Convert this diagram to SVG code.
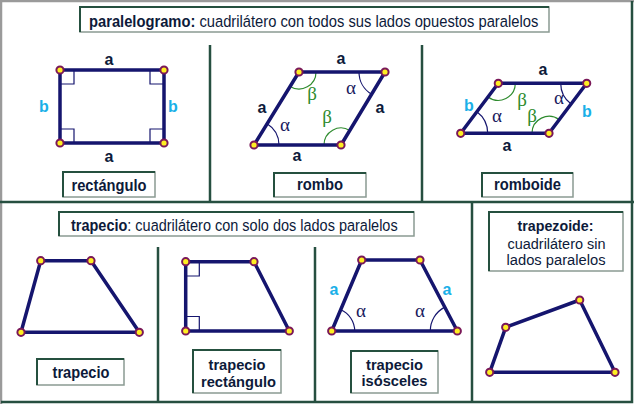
<svg xmlns="http://www.w3.org/2000/svg" width="634" height="404" viewBox="0 0 634 404">
<style>
.div{stroke:#264f40;stroke-width:2.5;fill:none}
.box{fill:#fff;stroke:#8a9a92;stroke-width:1.5}
.boxd{fill:none;stroke:#25503f;stroke-width:2}
.shape{fill:none;stroke:#15156e;stroke-width:3.5;stroke-linejoin:round}
.thin{fill:none;stroke:#15156e;stroke-width:1.2}
.garc{fill:none;stroke:#2e8b2e;stroke-width:1.2}
.t{font-family:"Liberation Sans",Arial,sans-serif;fill:#0d1a3a;font-size:17px}
.s{font-size:15.5px}
.b{font-weight:bold}
.m{text-anchor:middle}
.lab{font-family:"Liberation Sans",Arial,sans-serif;font-weight:bold;font-size:16px;text-anchor:middle}
.na{fill:#0d1a3a}
.cy{fill:#1ab0e8}
.gr{font-family:"Liberation Serif","DejaVu Serif",serif;font-size:19px;text-anchor:middle}
.al{fill:#1a1a5e}
.be{fill:#2e8b2e}
</style>
<defs>
<circle id="dot" r="3.6" fill="#ffee22" stroke="#7a1858" stroke-width="2"/>
</defs>
<rect x="0" y="0" width="634" height="404" fill="#fff"/>
<g id="frame">
<path d="M1 404 V1 H634" fill="none" stroke="#9a9a9a" stroke-width="2.5"/>
<path d="M632 1 V402 H1" fill="none" stroke="#264f40" stroke-width="2.5"/>
<path class="div" d="M0 202 H634"/>
<path class="div" d="M210 45 V201 M422 45 V201"/>
<path class="div" d="M158 247 V403 M315 247 V403 M472 202 V403"/>
</g>
<g id="paralelogramo-title">
<rect class="box" x="80" y="7" width="469" height="25"/><path class="boxd" d="M80 32 V7 H549"/>
<text class="t" transform="translate(89 27) scale(0.867 1)"><tspan class="b">paralelogramo:</tspan> cuadrilátero con todos sus lados opuestos paralelos</text>
</g>
<g id="rectangulo">
<path class="shape" d="M60 70 H164 V143 H60 Z"/>
<path class="thin" d="M74 70 V84 H60 M150 70 V84 H164 M60 129 H74 V143 M164 129 H150 V143"/>
<use href="#dot" x="60" y="70"/><use href="#dot" x="164" y="70"/><use href="#dot" x="60" y="143"/><use href="#dot" x="164" y="143"/>
<text class="lab na" x="109" y="65">a</text>
<text class="lab na" x="109" y="162">a</text>
<text class="lab cy" x="44" y="112">b</text>
<text class="lab cy" x="173" y="112">b</text>
<rect class="box" x="63" y="172" width="92" height="25"/><path class="boxd" d="M63 197 V172 H155"/>
<text class="t b m" x="109" y="191" textLength="75" lengthAdjust="spacingAndGlyphs">rectángulo</text>
</g>
<g id="rombo">
<path class="thin" d="M279 145 A25 25 0 0 0 267.1 123.7"/>
<path class="garc" d="M290.1 86.5 A17 17 0 0 0 316 72"/>
<path class="thin" d="M359 72 A26 26 0 0 0 371.6 94.3"/>
<path class="garc" d="M324 145 A17 17 0 0 1 349.8 130.4"/>
<path class="shape" d="M299 72 H385 L341 145 H254 Z"/>
<use href="#dot" x="299" y="72"/><use href="#dot" x="385" y="72"/><use href="#dot" x="341" y="145"/><use href="#dot" x="254" y="145"/>
<text class="lab na" x="341" y="64">a</text>
<text class="lab na" x="262" y="113">a</text>
<text class="lab na" x="380" y="113">a</text>
<text class="lab na" x="297" y="161">a</text>
<text class="gr al" x="285" y="131">α</text>
<text class="gr be" x="312" y="100">β</text>
<text class="gr al" x="351" y="94">α</text>
<text class="gr be" x="327" y="123">β</text>
<rect class="box" x="274" y="173" width="92" height="24"/><path class="boxd" d="M274 197 V173 H366"/>
<text class="t b m" x="320" y="190" textLength="46" lengthAdjust="spacingAndGlyphs">rombo</text>
</g>
<g id="romboide">
<path class="thin" d="M487.7 133.3 A27 27 0 0 0 476.9 111.7"/>
<path class="garc" d="M488.1 96.9 A17 17 0 0 0 515.3 83.3"/>
<path class="thin" d="M560.7 83.3 A26 26 0 0 0 571.1 104.1"/>
<path class="garc" d="M532 133.3 A17 17 0 0 1 559.2 119.7"/>
<path class="shape" d="M498.3 83.3 H586.7 L549 133.3 H460.7 Z"/>
<use href="#dot" x="498.3" y="83.3"/><use href="#dot" x="586.7" y="83.3"/><use href="#dot" x="549" y="133.3"/><use href="#dot" x="460.7" y="133.3"/>
<text class="lab na" x="543" y="75">a</text>
<text class="lab na" x="507" y="151">a</text>
<text class="lab cy" x="469" y="111">b</text>
<text class="lab cy" x="587" y="117">b</text>
<text class="gr al" x="497" y="122">α</text>
<text class="gr be" x="522" y="106">β</text>
<text class="gr al" x="559" y="104">α</text>
<text class="gr be" x="532" y="122">β</text>
<rect class="box" x="482" y="173" width="91" height="24"/><path class="boxd" d="M482 197 V173 H573"/>
<text class="t b m" x="527.5" y="190" textLength="67" lengthAdjust="spacingAndGlyphs">romboide</text>
</g>
<g id="trapecio-title">
<rect class="box" x="59" y="212" width="355" height="24"/><path class="boxd" d="M59 236 V212 H414"/>
<text class="t" transform="translate(71 231) scale(0.852 1)"><tspan class="b">trapecio</tspan>: cuadrilátero con solo dos lados paralelos</text>
</g>
<g id="trapecio">
<path class="shape" d="M40.7 260.7 H91 L139.3 332.3 H21 Z"/>
<use href="#dot" x="40.7" y="260.7"/><use href="#dot" x="91" y="260.7"/><use href="#dot" x="139.3" y="332.3"/><use href="#dot" x="21" y="332.3"/>
<rect class="box" x="37" y="359" width="87" height="26"/><path class="boxd" d="M37 385 V359 H124"/>
<text class="t b m" x="81" y="377.5" textLength="57" lengthAdjust="spacingAndGlyphs">trapecio</text>
</g>
<g id="trapecio-rectangulo">
<path class="shape" d="M185.7 261.7 H254 L289.3 331 H185.7 Z"/>
<path class="thin" d="M185.7 276 H199.3 V261.7 M185.7 316.5 H199.3 V331"/>
<use href="#dot" x="185.7" y="261.7"/><use href="#dot" x="254" y="261.7"/><use href="#dot" x="289.3" y="331"/><use href="#dot" x="185.7" y="331"/>
<rect class="box" x="193" y="350" width="88" height="43"/><path class="boxd" d="M193 393 V350 H281"/>
<text class="t s b m" x="237" y="370" textLength="57" lengthAdjust="spacingAndGlyphs">trapecio</text>
<text class="t s b m" x="238.5" y="386.5" textLength="75" lengthAdjust="spacingAndGlyphs">rectángulo</text>
</g>
<g id="trapecio-isosceles">
<path class="thin" d="M354.7 331 A23 23 0 0 0 340.6 309.8"/>
<path class="thin" d="M430.3 331 A27 27 0 0 1 444.7 307.1"/>
<path class="shape" d="M361.7 260 H420 L457.3 331 H331.7 Z"/>
<use href="#dot" x="361.7" y="260"/><use href="#dot" x="420" y="260"/><use href="#dot" x="457.3" y="331"/><use href="#dot" x="331.7" y="331"/>
<text class="lab cy" x="334" y="295">a</text>
<text class="lab cy" x="447" y="295">a</text>
<text class="gr al" x="361" y="317">α</text>
<text class="gr al" x="420" y="317">α</text>
<rect class="box" x="351" y="351" width="87" height="42"/><path class="boxd" d="M351 393 V351 H438"/>
<text class="t s b m" x="394.5" y="370" textLength="57" lengthAdjust="spacingAndGlyphs">trapecio</text>
<text class="t s b m" x="394.5" y="386" textLength="66" lengthAdjust="spacingAndGlyphs">isósceles</text>
</g>
<g id="trapezoide">
<rect class="box" x="489" y="212" width="134" height="59"/><path class="boxd" d="M489 271 V212 H623"/>
<text class="t s b m" x="555.5" y="231" textLength="76" lengthAdjust="spacingAndGlyphs">trapezoide:</text>
<text class="t s m" x="556.5" y="248.5" textLength="98" lengthAdjust="spacingAndGlyphs">cuadrilátero sin</text>
<text class="t s m" x="556" y="264.5" textLength="99" lengthAdjust="spacingAndGlyphs">lados paralelos</text>
<path class="shape" d="M505.7 327.3 L579.7 300 L615 372.3 H489.7 Z"/>
<use href="#dot" x="505.7" y="327.3"/><use href="#dot" x="579.7" y="300"/><use href="#dot" x="615" y="372.3"/><use href="#dot" x="489.7" y="372.3"/>
</g>
</svg>
